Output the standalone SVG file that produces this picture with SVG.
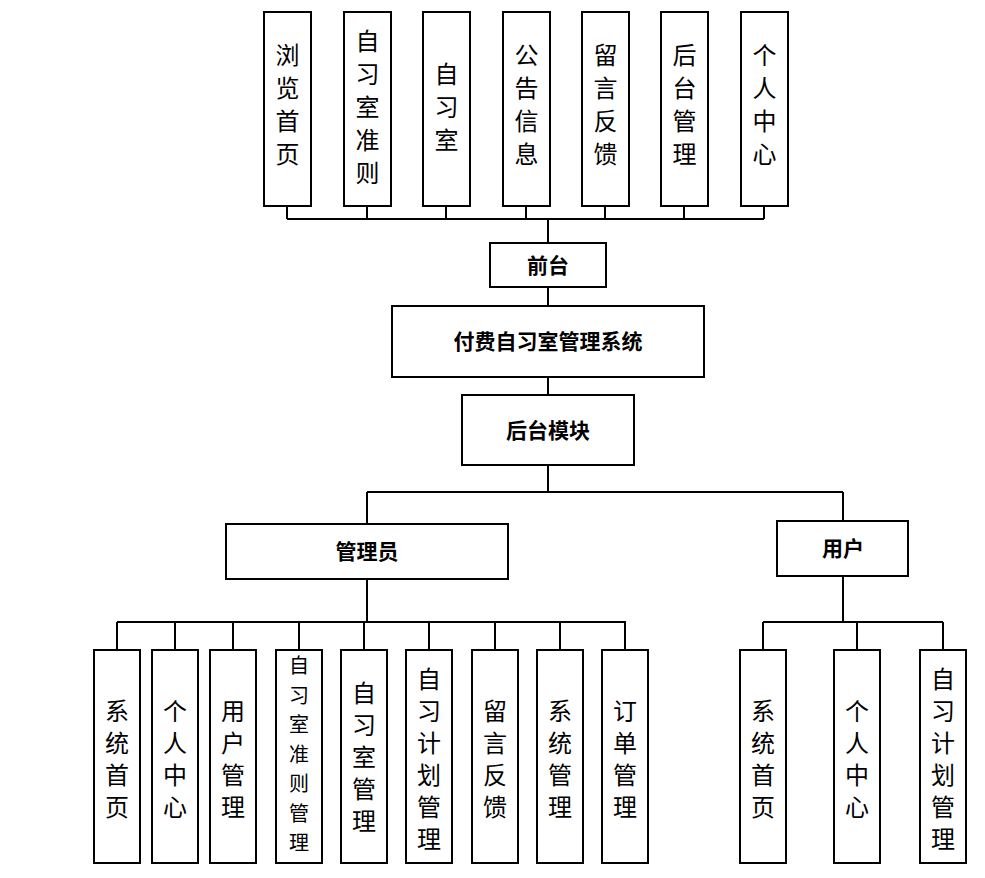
<svg xmlns="http://www.w3.org/2000/svg" width="985" height="878" viewBox="0 0 985 878">
<style>
rect{fill:#fff;stroke:#000;stroke-width:2}
.c line,.c path{stroke:#000;stroke-width:2;fill:none}
text{font-family:"Noto Sans CJK SC",sans-serif;fill:#000;text-anchor:middle}
.v{font-size:24px}
.s{font-size:20px}
.b{font-size:21px;font-weight:bold}
</style>
<rect x="0" y="0" width="985" height="878" style="stroke:none"/>
<g class="c">
<path d="M287 206V219M367 206V219M446 206V219M526 206V219M605 206V219M684 206V219M764 206V219M287 219H764M548 219V243M548 287V306M548 377V395M548 465V492M367 492H843M367 492V524M843 492V521"/>
<path d="M367 579V622M117 622H626M117 622V650M175 622V650M233 622V650M299 622V650M364 622V650M429 622V650M495 622V650M560 622V650M625 622V650"/>
<path d="M843 576V622M763 622H943M763 622V650M857 622V650M943 622V650"/>
</g>
<g id="t1"><rect x="264" y="12" width="47" height="194"/><text class="v" x="287.5"><tspan x="287.5" y="64">浏</tspan><tspan x="287.5" y="97">览</tspan><tspan x="287.5" y="130">首</tspan><tspan x="287.5" y="163">页</tspan></text></g>
<g id="t2"><rect x="344" y="12" width="47" height="194"/><text class="v"><tspan x="367.5" y="50">自</tspan><tspan x="367.5" y="83">习</tspan><tspan x="367.5" y="116">室</tspan><tspan x="367.5" y="149">准</tspan><tspan x="367.5" y="182">则</tspan></text></g>
<g id="t3"><rect x="423" y="12" width="47" height="194"/><text class="v"><tspan x="446.5" y="83">自</tspan><tspan x="446.5" y="116">习</tspan><tspan x="446.5" y="149">室</tspan></text></g>
<g id="t4"><rect x="503" y="12" width="47" height="194"/><text class="v"><tspan x="526.5" y="64">公</tspan><tspan x="526.5" y="97">告</tspan><tspan x="526.5" y="130">信</tspan><tspan x="526.5" y="163">息</tspan></text></g>
<g id="t5"><rect x="582" y="12" width="47" height="194"/><text class="v"><tspan x="605.5" y="64">留</tspan><tspan x="605.5" y="97">言</tspan><tspan x="605.5" y="130">反</tspan><tspan x="605.5" y="163">馈</tspan></text></g>
<g id="t6"><rect x="661" y="12" width="47" height="194"/><text class="v"><tspan x="684.5" y="64">后</tspan><tspan x="684.5" y="97">台</tspan><tspan x="684.5" y="130">管</tspan><tspan x="684.5" y="163">理</tspan></text></g>
<g id="t7"><rect x="741" y="12" width="47" height="194"/><text class="v"><tspan x="764.5" y="64">个</tspan><tspan x="764.5" y="97">人</tspan><tspan x="764.5" y="130">中</tspan><tspan x="764.5" y="163">心</tspan></text></g>
<g id="qiantai"><rect x="490" y="243" width="116" height="44"/><text class="b" x="548" y="273">前台</text></g>
<g id="sys"><rect x="392" y="306" width="312" height="71"/><text class="b" x="548" y="349">付费自习室管理系统</text></g>
<g id="houtai"><rect x="462" y="395" width="172" height="70"/><text class="b" x="548" y="438">后台模块</text></g>
<g id="admin"><rect x="226" y="524" width="282" height="55"/><text class="b" x="367" y="559">管理员</text></g>
<g id="user"><rect x="777" y="521" width="131" height="55"/><text class="b" x="843" y="556">用户</text></g>
<g id="a1"><rect x="94" y="650" width="46" height="213"/><text class="v"><tspan x="117" y="720">系</tspan><tspan x="117" y="752">统</tspan><tspan x="117" y="784">首</tspan><tspan x="117" y="816">页</tspan></text></g>
<g id="a2"><rect x="152" y="650" width="46" height="213"/><text class="v"><tspan x="175" y="720">个</tspan><tspan x="175" y="752">人</tspan><tspan x="175" y="784">中</tspan><tspan x="175" y="816">心</tspan></text></g>
<g id="a3"><rect x="210" y="650" width="46" height="213"/><text class="v"><tspan x="233" y="720">用</tspan><tspan x="233" y="752">户</tspan><tspan x="233" y="784">管</tspan><tspan x="233" y="816">理</tspan></text></g>
<g id="a4"><rect x="276" y="650" width="46" height="213"/><text class="s"><tspan x="299" y="673">自</tspan><tspan x="299" y="702.5">习</tspan><tspan x="299" y="732">室</tspan><tspan x="299" y="761.5">准</tspan><tspan x="299" y="791">则</tspan><tspan x="299" y="820.5">管</tspan><tspan x="299" y="850">理</tspan></text></g>
<g id="a5"><rect x="341" y="650" width="46" height="213"/><text class="v"><tspan x="364" y="702">自</tspan><tspan x="364" y="734">习</tspan><tspan x="364" y="766">室</tspan><tspan x="364" y="798">管</tspan><tspan x="364" y="830">理</tspan></text></g>
<g id="a6"><rect x="406" y="650" width="46" height="213"/><text class="v"><tspan x="429" y="688">自</tspan><tspan x="429" y="720">习</tspan><tspan x="429" y="752">计</tspan><tspan x="429" y="784">划</tspan><tspan x="429" y="816">管</tspan><tspan x="429" y="848">理</tspan></text></g>
<g id="a7"><rect x="472" y="650" width="46" height="213"/><text class="v"><tspan x="495" y="720">留</tspan><tspan x="495" y="752">言</tspan><tspan x="495" y="784">反</tspan><tspan x="495" y="816">馈</tspan></text></g>
<g id="a8"><rect x="537" y="650" width="46" height="213"/><text class="v"><tspan x="560" y="720">系</tspan><tspan x="560" y="752">统</tspan><tspan x="560" y="784">管</tspan><tspan x="560" y="816">理</tspan></text></g>
<g id="a9"><rect x="602" y="650" width="46" height="213"/><text class="v"><tspan x="625" y="720">订</tspan><tspan x="625" y="752">单</tspan><tspan x="625" y="784">管</tspan><tspan x="625" y="816">理</tspan></text></g>
<g id="u1"><rect x="740" y="650" width="46" height="213"/><text class="v"><tspan x="763" y="720">系</tspan><tspan x="763" y="752">统</tspan><tspan x="763" y="784">首</tspan><tspan x="763" y="816">页</tspan></text></g>
<g id="u2"><rect x="834" y="650" width="46" height="213"/><text class="v"><tspan x="857" y="720">个</tspan><tspan x="857" y="752">人</tspan><tspan x="857" y="784">中</tspan><tspan x="857" y="816">心</tspan></text></g>
<g id="u3"><rect x="920" y="650" width="46" height="213"/><text class="v"><tspan x="943" y="688">自</tspan><tspan x="943" y="720">习</tspan><tspan x="943" y="752">计</tspan><tspan x="943" y="784">划</tspan><tspan x="943" y="816">管</tspan><tspan x="943" y="848">理</tspan></text></g>
</svg>
